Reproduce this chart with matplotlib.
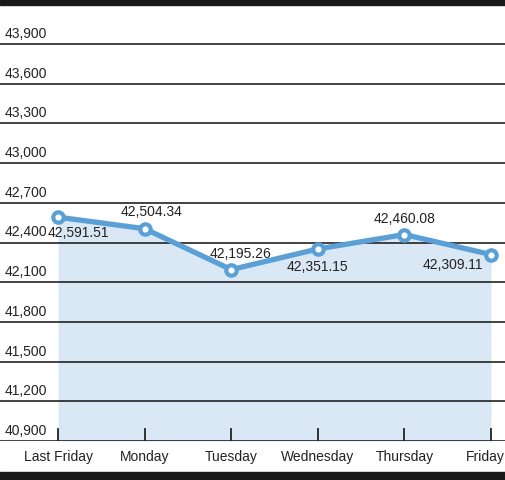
import matplotlib.pyplot as plt
from matplotlib.patches import Rectangle

plt.rcParams['font.family'] = ['Liberation Sans Narrow', 'Liberation Sans', 'DejaVu Sans']
plt.rcParams['font.size'] = 10

days = ["Last Friday", "Monday", "Tuesday", "Wednesday", "Thursday", "Friday"]
values = [42591.51, 42504.34, 42195.26, 42351.15, 42460.08, 42309.11]
yticks = [40900, 41200, 41500, 41800, 42100, 42400, 42700, 43000, 43300, 43600, 43900]
# label offsets in pixels (dx, dy)
offsets = [(20, -16), (7, 17), (9, 16), (0, -18), (0, 16), (-38, -10)]

line_col = '#5a9fd6'
fill_col = '#dae8f6'

fig = plt.figure(figsize=(5.06, 4.80), dpi=100)
fig.patches.append(Rectangle((0, 1 - 5 / 480), 1, 5 / 480, transform=fig.transFigure,
                             color='#1a1a1a', zorder=0))
fig.patches.append(Rectangle((0, 0), 1, 8 / 480, transform=fig.transFigure,
                             color='#1a1a1a', zorder=0))

ax = fig.add_axes([0, 39 / 480, 1, 433 / 480])
x = list(range(len(days)))
ax.set_xlim(-0.67, 5.173)
ax.set_ylim(40900, 40900 + 433 * 3000 / 397)

ax.fill_between(x, values, 40900, color=fill_col, lw=0, zorder=1)
for t in yticks:
    ax.axhline(t, color='#222222', lw=1.2, zorder=2)
    ax.annotate(f"{t:,}", xy=(0, t), xycoords=('axes fraction', 'data'),
                xytext=(5, 3), textcoords='offset pixels', ha='left', va='bottom',
                color='#222222')

ax.plot(x, values, color=line_col, lw=3.8, marker='o', ms=7.5, mfc='white',
        mec=line_col, mew=3, zorder=4, solid_joinstyle='round')

for xi, v, (dx, dy) in zip(x, values, offsets):
    ax.annotate(f"{v:,.2f}", xy=(xi, v), xytext=(dx, dy), textcoords='offset pixels',
                ha='center', va='center', color='#222222', zorder=5)

# small upward ticks on the base line
for xi in x:
    ax.plot([xi, xi], [40900, 40900 + 12 * 3000 / 397], color='#222222', lw=1.3, zorder=3)

for xi, d in zip(x, days):
    dx = -6 if d == "Friday" else 0
    ax.annotate(d, xy=(xi, 40900), xytext=(dx, -16), textcoords='offset pixels',
                ha='center', va='center', color='#222222', annotation_clip=False)

ax.axis('off')
fig.savefig('out.png', dpi=100)
